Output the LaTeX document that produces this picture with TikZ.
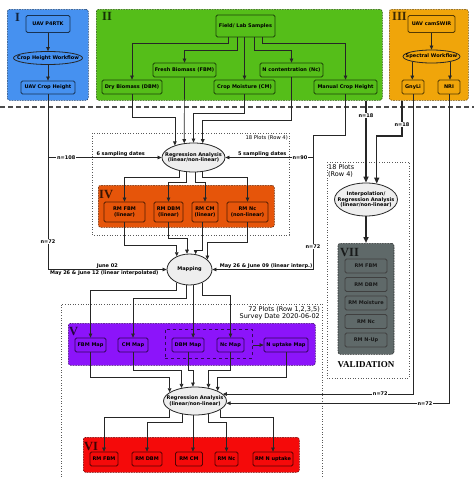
\documentclass[tikz,border=0pt]{standalone}
\usepackage{fontspec}
\setmainfont{DejaVu Sans}
\newfontfamily\romfont{Liberation Serif}
\usetikzlibrary{arrows.meta,shapes,positioning,calc}

\definecolor{panelI}{RGB}{70,145,240}
\definecolor{panelII}{RGB}{85,190,25}
\definecolor{panelIII}{RGB}{240,165,10}
\definecolor{panelIV}{RGB}{230,85,10}
\definecolor{panelV}{RGB}{140,20,250}
\definecolor{panelVI}{RGB}{245,10,10}
\definecolor{panelVII}{RGB}{95,105,105}
\definecolor{ellfill}{RGB}{238,238,238}

\newcommand\boxfont{\fontsize{5}{5.6}\selectfont\bfseries}
\newcommand\plotfont{\fontsize{6.5}{7.5}\selectfont}
\newcommand\smallplot{\fontsize{5.2}{6}\selectfont}
\newcommand\romnum{\romfont\fontsize{12.5}{13}\selectfont\bfseries}

\tikzset{
  panel/.style={draw=#1!45!black, fill=#1, dash pattern=on 1.6pt off 1pt, line width=0.6pt,
                rounded corners=2.5pt, anchor=north west, inner sep=0pt},
  box/.style={draw=#1!35!black, fill=#1, line width=0.8pt, rounded corners=1.5pt,
              font=\boxfont, inner sep=1pt, align=center},
  vbox/.style={box=panelVII, draw=black!75, text=black!90, minimum width=42, minimum height=14},
  ell/.style={ellipse, draw=black!85, fill=ellfill, line width=0.8pt, inner sep=0pt},
  txt/.style={font=\boxfont, align=center, inner sep=0pt},
  roman/.style={font=\romnum, text=#1!25!black, anchor=base west, inner sep=0pt},
  conn/.style={line width=0.7pt, draw=black!85},
  arr/.style={conn, -{Triangle[length=4pt,width=3.6pt]}},
  bigarr/.style={-{Triangle[length=6pt,width=5pt]}, line width=1.5pt, draw=black!85},
  lab/.style={font=\boxfont, inner sep=1pt},
  num/.style={font=\boxfont, fill=white, inner sep=0.6pt},
  plots/.style={draw=black!65, dotted, line width=0.6pt},
  divider/.style={draw=black!70, line width=1.1pt, dash pattern=on 5pt off 3pt}
}

\begin{document}
\begin{tikzpicture}[x=1pt, y=-1pt]
  \useasboundingbox (0,0) rectangle (474,479);

  % Top panels
  \node[panel=panelI, minimum width=81, minimum height=91] (p1) at (7,9) {};
  \node[panel=panelII, minimum width=286, minimum height=91] (p2) at (96,9) {};
  \node[panel=panelIII, minimum width=79, minimum height=91] (p3) at (389,9) {};
  \draw[divider] (0,107) -- (474,107);

  % Panel I
  \node[roman=panelI] at (15,21) {I};
  \node[box=panelI, minimum width=44, minimum height=17] (p4rtk) at (48,24) {UAV P4RTK};
  \node[ell, fill=panelI, minimum width=69, minimum height=13,
        label={[txt]center:Crop Height Workflow}] (chw) at (48,58) {};
  \node[box=panelI, minimum width=54, minimum height=13] (uavch) at (48,87.5) {UAV Crop Height};
  \draw[arr] (p4rtk) -- (chw);
  \draw[arr] (chw) -- (uavch);

  % Panel II
  \node[roman=panelII] at (102,20.5) {II};
  \node[box=panelII, minimum width=59, minimum height=22] (field) at (245.5,26) {Field/ Lab Samples};
  \node[box=panelII, minimum width=63, minimum height=14] (fbm) at (184.5,70) {Fresh Biomass (FBM)};
  \node[box=panelII, minimum width=60, minimum height=14] (dbm) at (132,87) {Dry Biomass (DBM)};
  \node[box=panelII, minimum width=61, minimum height=14] (cm) at (244.5,87) {Crop Moisture (CM)};
  \node[box=panelII, minimum width=63, minimum height=14] (nc) at (291.5,70) {N contentration (Nc)};
  \node[box=panelII, minimum width=63, minimum height=14] (mch) at (345.5,87) {Manual Crop Height};
  \draw[arr] ([xshift=-17pt]field.south) -- ++(0,6) -| (dbm);
  \draw[arr] ([xshift=-8.5pt]field.south) -- ++(0,13) -| (fbm);
  \draw[arr] (field.south -| cm) -- (cm);
  \draw[arr] ([xshift=8.5pt]field.south) -- ++(0,13) -| (nc);
  \draw[arr] ([xshift=17pt]field.south) -- ++(0,6) -| (mch);

  % Panel III
  \node[roman=panelIII] at (392,20.5) {III};
  \node[box=panelIII, minimum width=47, minimum height=17] (swir) at (431.5,24) {UAV camSWIR};
  \node[ell, fill=panelIII, minimum width=57, minimum height=13,
        label={[txt]center:Spectral Workflow}] (spw) at (431.5,56.5) {};
  \node[box=panelIII, minimum width=22, minimum height=14] (gny) at (413,87) {GnyLi};
  \node[box=panelIII, minimum width=22, minimum height=14] (nri) at (449,87) {NRI};
  \draw[arr] (swir) -- (spw);
  \draw[arr] (spw.195) -- (spw.195 |- gny.north);
  \draw[arr] (spw.344) -- (spw.344 |- nri.north);

  % Dotted plot boxes
  \draw[plots] (92,133) rectangle (289,235);
  \node[anchor=north east, font=\smallplot, inner sep=1pt] at (289,134) {18 Plots (Row 4)};
  \draw[plots] (327,162) rectangle (409,378);
  \node[anchor=north west, font=\plotfont, align=left, inner sep=1pt] at (327,163) {18 Plots\\(Row 4)};
  \draw[plots] (61,482) -- (61,304) -- (322,304) -- (322,482);
  \node[anchor=north east, font=\plotfont, align=right, inner sep=1pt] at (321,305)
       {72 Plots (Row 1,2,3,5)\\Survey Date 2020-06-02};

  % Regression 1 and panel IV
  \node[ell, minimum width=63, minimum height=29,
        label={[txt]center:Regression Analysis\\(linear/non-linear)}] (reg1) at (193.5,157.5) {};
  \node[panel=panelIV, minimum width=176, minimum height=42] (p4) at (98,185) {};
  \node[roman=panelIV] at (99,198) {IV};
  \node[box=panelIV, minimum width=41, minimum height=20] (rmfbm) at (124.5,212) {RM FBM\\(linear)};
  \node[box=panelIV, minimum width=29, minimum height=20] (rmdbm) at (168.5,212) {RM DBM\\(linear)};
  \node[box=panelIV, minimum width=26, minimum height=20] (rmcm) at (205,212) {RM CM\\(linear)};
  \node[box=panelIV, minimum width=41, minimum height=20] (rmnc) at (247.5,212) {RM Nc\\(non-linear)};

  \draw[arr] (dbm) |- (reg1.147 |- 0,117) -- (reg1.147);
  \draw[arr] (fbm) -- (reg1.123);
  \draw[arr] (cm) |- (reg1.90 |- 0,113) -- (reg1.90);
  \draw[arr] (nc) |- (reg1.57 |- 0,120) -- (reg1.57);

  \draw[arr] (reg1.224) -- (reg1.224 |- 0,177) -| (rmfbm);
  \draw[arr] (reg1.245) -- (reg1.245 |- 0,182) -| (rmdbm);
  \draw[arr] (reg1.276) -- (reg1.276 |- 0,182) -| (rmcm);
  \draw[arr] (reg1.301) -- (reg1.301 |- 0,177) -| (rmnc);

  % Mapping
  \node[ell, minimum width=45, minimum height=31, label={[txt]center:Mapping}] (map) at (189.5,269.5) {};
  \draw[arr] (rmfbm) |- (map.134 |- 0,245) -- (map.134);
  \draw[arr] (rmdbm) |- (map.99 |- 0,238) -- (map.99);
  \draw[arr] ([xshift=-3pt]rmcm.south) |- (map.68 |- 0,250) -- (map.68);
  \draw[arr] (rmnc) |- (map.29 |- 0,242) -- (map.29);

  % UAV crop height and manual crop height lines
  \draw[arr] (uavch) |- node[num, pos=0.58] {n=108}
                        node[lab, above, pos=0.82] {6 sampling dates} (reg1);
  \draw[arr] (uavch) |- node[num, pos=0.42] {n=72}
                        node[lab, above, pos=0.75] {June 02}
                        node[lab, below, pos=0.737] {May 26 \& June 12 (linear interpolated)} (map);
  \coordinate (mchbend) at (313,135);
  \draw[conn] (mch) |- (mchbend);
  \draw[arr] (mchbend) |- node[num, pos=0.574] {n=90}
                          node[lab, above, pos=0.79] {5 sampling dates} (reg1);
  \draw[arr] (mchbend) |- node[num, pos=0.416] {n=72}
                          node[lab, above, pos=0.733] {May 26 \& June 09 (linear interp.)} (map);

  % Panel V
  \node[panel=panelV, minimum width=247, minimum height=42] (p5) at (68,323) {};
  \node[roman=panelV] at (69,335.5) {V};
  \node[draw=panelV!35!black, dashed, line width=0.7pt, minimum width=87, minimum height=29,
        anchor=north west] (dbox) at (165,329) {};
  \node[box=panelV, minimum width=31, minimum height=14] (fbmmap) at (90.5,345) {FBM Map};
  \node[box=panelV, minimum width=30, minimum height=14] (cmmap) at (133,345) {CM Map};
  \node[box=panelV, minimum width=32, minimum height=14] (dbmmap) at (188,345) {DBM Map};
  \node[box=panelV, minimum width=27, minimum height=14] (ncmap) at (230.5,345) {Nc Map};
  \node[box=panelV, minimum width=44, minimum height=14] (nupmap) at (286,345) {N uptake Map};
  \draw[arr] (dbox.east |- nupmap) -- (nupmap);

  \draw[arr] (map.226) -- (map.226 |- 0,290) -| (fbmmap);
  \draw[arr] (map.257) -- (map.257 |- 0,298) -| (cmmap);
  \draw[arr] (map.283) -- (map.283 |- dbmmap.north);
  \draw[arr] (map.314) -- (map.314 |- 0,295) -| (ncmap);

  % Regression 2 and panel VI
  \node[ell, minimum width=63, minimum height=28,
        label={[txt]center:Regression Analysis\\(linear/non-linear)}] (reg2) at (195,401) {};
  \draw[arr] (fbmmap) |- (reg2.161 |- 0,377) -- (reg2.161);
  \draw[arr] (cmmap) |- (reg2.136 |- 0,370) -- (reg2.136);
  \draw[arr] (dbmmap) |- (reg2.98 |- 0,370) -- (reg2.98);
  \draw[arr] (ncmap) |- (reg2.44 |- 0,370) -- (reg2.44);
  \draw[arr] (nupmap) |- (reg2.24 |- 0,377) -- (reg2.24);
  \draw[arr] (gny) |- node[num, pos=0.586] {n=72} (reg2.14);
  \draw[arr] (nri) |- node[num, pos=0.554] {n=72} (reg2.356);

  \node[panel=panelVI, minimum width=216, minimum height=35] (p6) at (83,437) {};
  \node[roman=panelVI] at (84,450) {VI};
  \node[box=panelVI, minimum width=28, minimum height=14] (fbm6) at (104,459) {RM FBM};
  \node[box=panelVI, minimum width=30, minimum height=14] (dbm6) at (147,459) {RM DBM};
  \node[box=panelVI, minimum width=27, minimum height=14] (cm6) at (189,459) {RM CM};
  \node[box=panelVI, minimum width=23, minimum height=14] (nc6) at (226.5,459) {RM Nc};
  \node[box=panelVI, minimum width=40, minimum height=14] (nup6) at (273,459) {RM N uptake};
  \draw[arr] (reg2.199) -- (reg2.199 |- 0,417) -| (fbm6);
  \draw[arr] (reg2.227) -- (reg2.227 |- 0,422) -| (dbm6);
  \draw[arr] (reg2.262) -- (reg2.262 |- cm6.north);
  \draw[arr] (reg2.316) -- (reg2.316 |- 0,422) -| (nc6);
  \draw[arr] (reg2.341) -- (reg2.341 |- 0,417) -| (nup6);

  % Validation
  \node[ell, minimum width=63, minimum height=33,
        label={[txt]center:Interpolation/\\Regression Analysis\\(linear/non-linear)}] (interp) at (366,199.5) {};
  \draw[bigarr] (p2.south -| interp.north) -- node[num, pos=0.18] {n=18} (interp);
  \draw[bigarr] (p3.south -| 402,0) -- node[num, pos=0.67] {n=18} (402,136) -| (interp.56);
  \node[panel=panelVII, anchor=north, minimum width=56, minimum height=111] (p7) at (366,243) {};
  \node[roman=panelVII] at (340,256) {VII};
  \draw[bigarr] (interp) -- (p7);
  \foreach \t [count=\i from 0] in {RM FBM, RM DBM, RM Moisture, RM Nc, RM N-Up}
    \node[vbox] (v\i) at (366,266+18.5*\i) {\t};
  \node[font=\romfont\fontsize{9}{10}\selectfont\bfseries, inner sep=0pt] (valid) at (366,365) {VALIDATION};

\end{tikzpicture}
\end{document}
